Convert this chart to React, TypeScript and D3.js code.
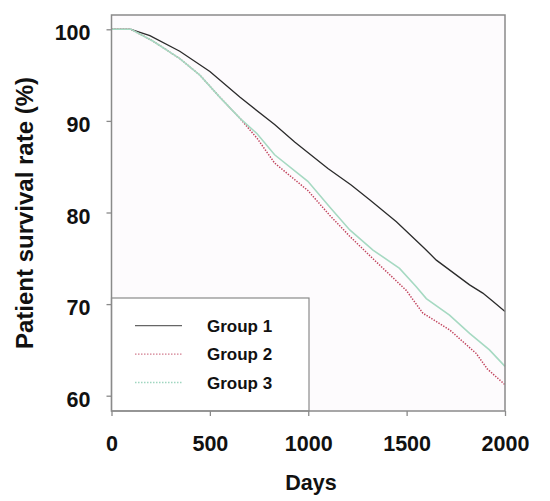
import { useEffect, useRef } from 'react';
import * as d3 from 'd3';

// values (days, survival %)
const group1Days = [0, 99, 195, 347, 500, 652, 829, 931, 1100, 1218, 1312, 1448, 1590, 1651, 1820, 1887, 1938, 2000];
const group1Vals = [100, 100, 99.3, 97.6, 95.4, 92.6, 89.6, 87.7, 84.8, 83.0, 81.4, 79.0, 76.1, 74.8, 72.1, 71.2, 70.3, 69.2];

const group2Days = [0, 99, 212, 347, 449, 550, 652, 740, 829, 998, 1109, 1211, 1346, 1498, 1583, 1718, 1854, 1911, 2000];
const group2Vals = [100, 100, 98.7, 96.8, 95.0, 92.6, 90.3, 88.1, 85.4, 82.4, 79.7, 77.4, 74.6, 71.5, 69.0, 67.2, 64.6, 62.9, 61.2];

const group3Days = [0, 99, 212, 347, 449, 550, 652, 740, 829, 998, 1109, 1211, 1329, 1464, 1549, 1600, 1718, 1820, 1921, 2000];
const group3Vals = [100, 100, 98.7, 96.8, 95.0, 92.6, 90.3, 88.6, 86.3, 83.4, 80.6, 78.1, 75.9, 73.9, 71.9, 70.6, 68.8, 66.8, 65.0, 63.2];

const groupNames = ['Group 1', 'Group 2', 'Group 3'];
const xTicks = [0, 500, 1000, 1500, 2000];
const yTicks = [60, 70, 80, 90, 100];

const FONT = '"Liberation Sans", Arial, sans-serif';

export default function App() {
  const xAxisRef = useRef<SVGGElement>(null);
  const yAxisRef = useRef<SVGGElement>(null);

  // plot box
  const left = 111.5;
  const right = 505;
  const top = 15;
  const bottom = 411;

  const x = d3.scaleLinear().domain([0, 2000]).range([left, right]);
  const y = d3.scaleLinear().domain([60, 100]).range([395.7, 29.3]);

  const series = [
    { name: groupNames[0], days: group1Days, vals: group1Vals, color: '#2b2b2b', dash: null, width: 1.3 },
    { name: groupNames[1], days: group2Days, vals: group2Vals, color: '#c2465f', dash: '1.4,1.4', width: 1.5 },
    { name: groupNames[2], days: group3Days, vals: group3Vals, color: '#a6d9c2', dash: null, width: 1.6 },
  ];

  const line = d3
    .line<[number, number]>()
    .x((d) => x(d[0]))
    .y((d) => y(d[1]));

  useEffect(() => {
    if (!xAxisRef.current || !yAxisRef.current) return;

    const gx = d3.select(xAxisRef.current);
    gx.selectAll('*').remove();
    gx.call(d3.axisBottom(x).tickValues(xTicks).tickSize(5).tickPadding(20).tickFormat(d3.format('d')));
    gx.select('.domain').remove();
    gx.selectAll('line').attr('stroke', '#8a8a8a').attr('stroke-width', 1.3);
    gx.selectAll('text')
      .attr('fill', '#111')
      .attr('font-size', 21.5)
      .attr('font-weight', 'bold')
      .attr('font-family', FONT);

    const gy = d3.select(yAxisRef.current);
    gy.selectAll('*').remove();
    gy.call(d3.axisLeft(y).tickValues(yTicks).tickSize(5).tickPadding(16).tickFormat(d3.format('d')));
    gy.select('.domain').remove();
    gy.selectAll('line').attr('stroke', '#8a8a8a').attr('stroke-width', 1.3);
    gy.selectAll('text')
      .attr('fill', '#111')
      .attr('font-size', 21.5)
      .attr('font-weight', 'bold')
      .attr('font-family', FONT)
      .attr('dy', '0.49em');
  }, []);

  return (
    <svg
      width={550}
      height={501}
      style={{ position: 'absolute', left: 0, top: 0, background: '#fff' }}
      fontFamily={FONT}
    >
      {/* plot background */}
      <rect x={left} y={top} width={right - left} height={bottom - top} fill="#fdfbfd" />

      {/* curves */}
      {series.map((s) => (
        <path
          key={s.name}
          d={line(s.days.map((d, i) => [d, s.vals[i]] as [number, number])) || ''}
          fill="none"
          stroke={s.color}
          strokeWidth={s.width}
          strokeDasharray={s.dash || undefined}
        />
      ))}

      {/* legend */}
      <rect x={left} y={298} width={309 - left} height={bottom - 298} fill="#ffffff" stroke="#8a8a8a" strokeWidth={1.2} />
      {[
        { color: '#666', dash: null, width: 1.3 },
        { color: '#d27d8f', dash: '1.5,1.5', width: 1.3 },
        { color: '#9fd6c0', dash: '1.5,1.5', width: 1.3 },
      ].map((l, i) => {
        const ly = 325.7 + i * 28.4;
        return (
          <g key={groupNames[i]}>
            <line x1={135} x2={182} y1={ly} y2={ly} stroke={l.color} strokeWidth={l.width} strokeDasharray={l.dash || undefined} />
            <text x={207} y={ly + 6.2} fontSize={17} fontWeight="bold" fill="#111">
              {groupNames[i]}
            </text>
          </g>
        );
      })}

      {/* frame */}
      <rect x={left} y={top} width={right - left} height={bottom - top} fill="none" stroke="#8a8a8a" strokeWidth={1.5} />

      <g ref={xAxisRef} transform={`translate(0,${bottom})`} />
      <g ref={yAxisRef} transform={`translate(${left},0)`} />

      {/* axis titles */}
      <text x={311} y={490} textAnchor="middle" fontSize={21.5} fontWeight="bold" fill="#111">
        Days
      </text>
      <text
        transform={`translate(33,213) rotate(-90)`}
        textAnchor="middle"
        fontSize={24}
        fontWeight="bold"
        fill="#111"
      >
        Patient survival rate (%)
      </text>
    </svg>
  );
}
